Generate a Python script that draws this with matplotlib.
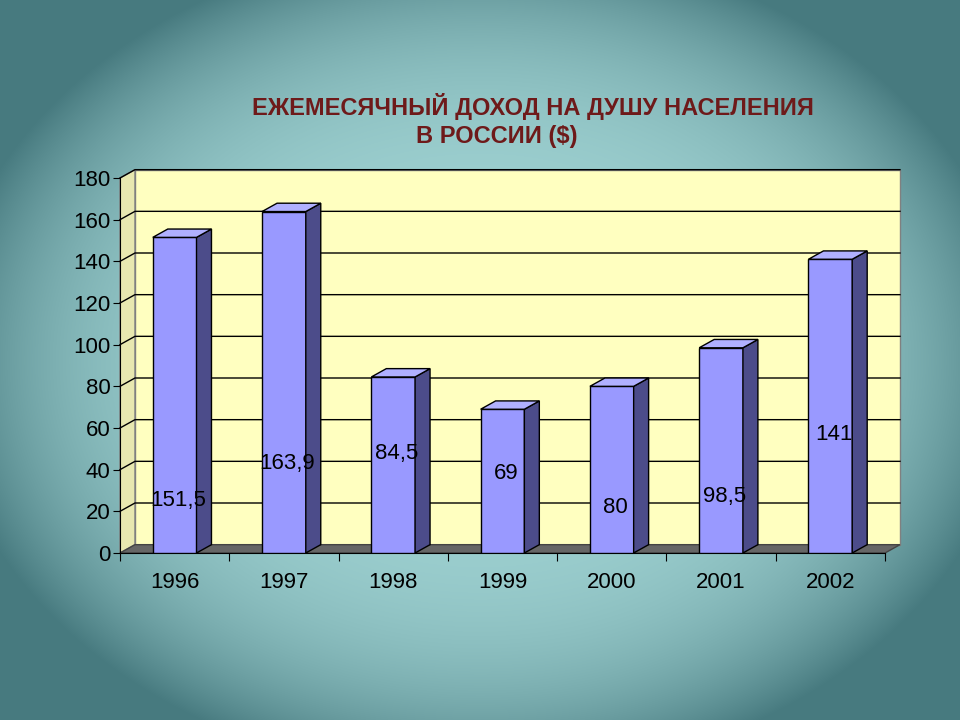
import numpy as np
import matplotlib
matplotlib.use("Agg")
import matplotlib.pyplot as plt
from matplotlib.patches import Polygon

years = ["1996", "1997", "1998", "1999", "2000", "2001", "2002"]
values = [151.5, 163.9, 84.5, 69, 80, 98.5, 141]
labels = ["151,5", "163,9", "84,5", "69", "80", "98,5", "141"]
label_y = [25, 43, 48, 38, 22, 27, 57]
yticks = list(range(0, 181, 20))

fig = plt.figure(figsize=(9.6, 7.2), dpi=100)
bg = fig.add_axes([0, 0, 1, 1])
yy, xx = np.mgrid[0:720, 0:960]
r = np.sqrt(((xx - 480) / 540) ** 2 + ((yy - 360) / 420) ** 2)
c0 = np.array([0.62, 0.82, 0.82]); c1 = np.array([0.28, 0.48, 0.50])
t = np.clip(r, 0, 1)[..., None] ** 4
bg.imshow(c0 * (1 - t) + c1 * t, aspect="auto")
bg.axis("off")

ax = fig.add_axes([120/960, (720-553)/720, 765/960, 375/720])
ax.set_xlim(-0.5, 6.5); ax.set_ylim(0, 180)
ax.patch.set_alpha(0)
dx, dy = 0.137, 4.0
wall = "#ffffc0"
ax.add_patch(Polygon([(-0.5+dx, dy), (6.5+dx, dy), (6.5+dx, 180+dy), (-0.5+dx, 180+dy)],
                     closed=True, fc=wall, ec="#808080", lw=1, clip_on=False, zorder=0))
ax.add_patch(Polygon([(-0.5, 0), (-0.5+dx, dy), (-0.5+dx, 180+dy), (-0.5, 180)],
                     closed=True, fc="#e8e8b0", ec="#808080", lw=1, clip_on=False, zorder=0))
ax.add_patch(Polygon([(-0.5, 0), (6.5, 0), (6.5+dx, dy), (-0.5+dx, dy)],
                     closed=True, fc="#666666", ec="#444444", lw=1, clip_on=False, zorder=1))
for v in yticks[1:]:
    ax.plot([-0.5, -0.5+dx, 6.5+dx], [v, v+dy, v+dy], color="black", lw=1, clip_on=False, zorder=1)

w = 0.4
for i, v in enumerate(values):
    x0, x1 = i - w/2, i + w/2
    ax.add_patch(Polygon([(x0, 0), (x1, 0), (x1, v), (x0, v)], fc="#9999ff", ec="black", lw=1, zorder=3))
    ax.add_patch(Polygon([(x1, 0), (x1+dx, dy), (x1+dx, v+dy), (x1, v)], fc="#4c4c8a", ec="black", lw=1, zorder=3, clip_on=False))
    ax.add_patch(Polygon([(x0, v), (x1, v), (x1+dx, v+dy), (x0+dx, v+dy)], fc="#b0b0ff", ec="black", lw=1, zorder=3, clip_on=False))
    ax.text(i + 0.03, label_y[i], labels[i], ha="center", va="center", fontsize=16,
            family="Liberation Sans", zorder=5)

for s in ["top", "right"]:
    ax.spines[s].set_visible(False)
ax.spines["left"].set_color("black"); ax.spines["bottom"].set_color("black")
ax.set_yticks(yticks)
ax.set_yticklabels([str(v) for v in yticks], fontsize=16, family="Liberation Sans")
ax.set_xticks(np.arange(-0.5, 7, 1), minor=False)
ax.set_xticklabels([])
ax.tick_params(axis="x", length=6, direction="out")
ax.tick_params(axis="y", length=5, direction="out", pad=2)
for i, y in enumerate(years):
    ax.text(i, -14, y, ha="center", va="center", fontsize=16, family="Liberation Sans")

fig.text(533/960, 1-107/720, "ЕЖЕМЕСЯЧНЫЙ ДОХОД НА ДУШУ НАСЕЛЕНИЯ", ha="center", va="center",
         fontsize=17, fontweight="bold", color="#6e1a1a", family="Liberation Sans")
fig.text(497/960, 1-136/720, "В РОССИИ ($)", ha="center", va="center",
         fontsize=17, fontweight="bold", color="#6e1a1a", family="Liberation Sans")
fig.savefig("out.png", dpi=100)
